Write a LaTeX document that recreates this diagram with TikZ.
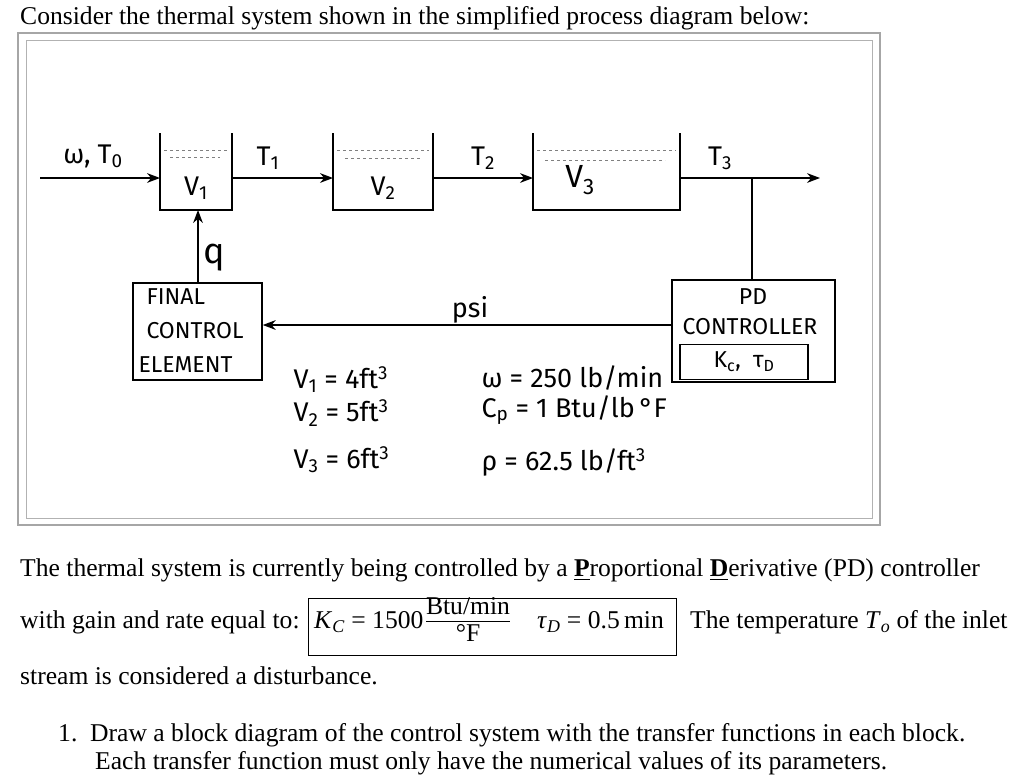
\documentclass[tikz,border=0pt]{standalone}
\usepackage{amsmath}
\usepackage{fontspec}
\setmainfont{Liberation Serif}
\newfontfamily\hand{Fira Sans}
\usetikzlibrary{arrows.meta}
\begin{document}
\begin{tikzpicture}[x=1pt,y=-1pt,
  ln/.style={line width=1.5pt},
  fl/.style={line width=1.5pt,-{Stealth[length=13pt]}},
  hw/.style={font=\hand\fontsize{23}{26}\selectfont},
  hb/.style={font=\hand\fontsize{27}{30}\selectfont},
  bt/.style={font=\fontsize{25.6}{29}\selectfont,anchor=west,inner sep=0pt},
  tank/.style={draw,line width=1.5pt,inner sep=0pt},
  water/.style={line width=0.8pt,dashed,gray}]
\useasboundingbox (0,0) rectangle (1024,782);
\fill[white] (0,0) rectangle (1024,782);
\node[bt] (title) at (20,18) {Consider the thermal system shown in the simplified process diagram below:};
\draw[line width=2pt,gray!70] (18,33) rectangle (880,525);
\draw[line width=1pt,gray!60] (26,40) rectangle (872,518);
% tanks
\draw[ln] (160,133) -- (160,210) -- (232,210) -- (232,133);
\draw[ln] (333,133) -- (333,210) -- (433,210) -- (433,133);
\draw[ln] (533,133) -- (533,210) -- (680,210) -- (680,133);
\draw[water] (164,150) -- (228,150); \draw[water] (337,150) -- (429,150); \draw[water] (537,150) -- (676,150);
\draw[water] (170,157) -- (220,157); \draw[water] (345,158) -- (420,158); \draw[water] (545,160) -- (665,160);
\coordinate (t1l) at (160,178); \coordinate (t1r) at (232,178);
\coordinate (t2l) at (333,178); \coordinate (t2r) at (433,178);
\coordinate (t3l) at (533,178); \coordinate (t3r) at (680,178);
\coordinate (in) at (40,178); \coordinate (out) at (820,178); \coordinate (tap) at (752,178);
\node[hb] (v1) at (196,188) {V\textsubscript{1}};
\node[hb] (v2) at (383,188) {V\textsubscript{2}};
\node[hb,font=\hand\fontsize{32}{34}\selectfont] (v3) at (580,180) {V\textsubscript{3}};
\draw[fl] (in) -- (t1l); \draw[fl] (t1r) -- (t2l); \draw[fl] (t2r) -- (t3l); \draw[fl] (t3r) -- (out);
\node[hb] (l0) at (93,156) {ω, T\textsubscript{0}};
\node[hb] (l1) at (268,158) {T\textsubscript{1}};
\node[hb] (l2) at (483,158) {T\textsubscript{2}};
\node[hb] (l3) at (720,158) {T\textsubscript{3}};
% controller
\node[tank,minimum width=163pt,minimum height=102pt] (pd) at (753.5,331) {};
\node[hw] (pdt) at (753,297) {PD};
\node[hw] (pdc) at (750,327) {CONTROLLER};
\node[tank,minimum width=128pt,minimum height=35pt,hw] (kc) at (744,362) {K\textsubscript{c},\ \ τ\textsubscript{D}};
\draw[ln] (tap) -- (pd.north -| tap);
% FCE
\node[tank,minimum width=129pt,minimum height=97pt] (fce) at (197.5,331.5) {};
\node[hw,anchor=west] (f1) at (143,297) {FINAL};
\node[hw,anchor=west] (f2) at (143,331) {CONTROL};
\node[hw,anchor=west] (f3) at (135,365) {ELEMENT};
\draw[fl] (pd.west |- 0,325) -- (fce.east |- 0,325);
\node[hb] (psi) at (470,310) {psi};
\draw[fl] (fce.north -| 198,0) -- (198,210);
\node[hb,font=\hand\fontsize{36}{38}\selectfont] (q) at (214,258) {q};
% parameters
\node[hb,anchor=west] (p1) at (290,380) {V\textsubscript{1} = 4ft\textsuperscript{3}};
\node[hb,anchor=west] (p2) at (290,413) {V\textsubscript{2} = 5ft\textsuperscript{3}};
\node[hb,anchor=west] (p3) at (290,460) {V\textsubscript{3} = 6ft\textsuperscript{3}};
\node[hb,anchor=west] (p4) at (478,378) {ω = 250 lb/min};
\node[hb,anchor=west] (p5) at (478,410) {C\textsubscript{p} = 1 Btu/lb\,°F};
\node[hb,anchor=west] (p6) at (478,462) {ρ = 62.5 lb/ft\textsuperscript{3}};
% body text
\node[bt] (b1) at (20,570) {The thermal system is currently being controlled by a \underline{\textbf{P}}roportional \underline{\textbf{D}}erivative (PD) controller};
\node[bt] (b2) at (20,622) {with gain and rate equal to:};
\node[draw,line width=0.8pt,minimum width=368pt,minimum height=57pt] (box) at (492,626.5) {};
\node[bt] (kcf) at (314,622) {\textit{K}\textsubscript{\textit{C}} = 1500};
\node[bt,anchor=center] (frac) at (468,622) {\begin{tabular}{@{}c@{}}Btu/min\\[-2pt]\hline °F\end{tabular}};
\node[bt] (td) at (537,622) {\textit{τ}\textsubscript{\textit{D}} = 0.5\,min};
\node[bt] (b3) at (690,622) {The temperature \textit{T}\textsubscript{\textit{o}} of the inlet};
\node[bt] (b4) at (20,676) {stream is considered a disturbance.};
\node[bt] (b5) at (58,735) {1.\ \ Draw a block diagram of the control system with the transfer functions in each block.};
\node[bt] (b6) at (95,763) {Each transfer function must only have the numerical values of its parameters.};
\end{tikzpicture}
\end{document}
